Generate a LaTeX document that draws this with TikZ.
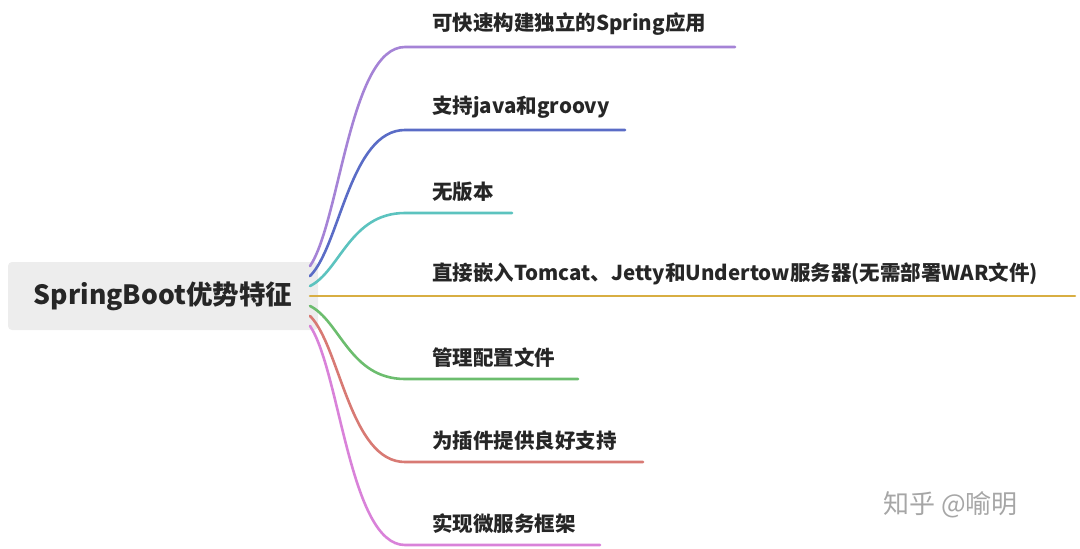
\documentclass[tikz,border=0pt]{standalone}
\usepackage{fontspec}
\setmainfont{Noto Sans CJK SC}
\begin{document}
\begin{tikzpicture}[x=1pt,y=-1pt,
  lbl/.style={anchor=south west,inner sep=0pt,font=\fontsize{20.5}{24}\selectfont\bfseries,text=black!85},
  br/.style={line width=2.6pt,line cap=round}]
\useasboundingbox (0,0) rectangle (1080,549);
\definecolor{c1}{HTML}{A583D6}
\definecolor{c2}{HTML}{5A6CC6}
\definecolor{c3}{HTML}{5CC3BF}
\definecolor{c4}{HTML}{D8AE42}
\definecolor{c5}{HTML}{6CBD6E}
\definecolor{c6}{HTML}{D87A74}
\definecolor{c7}{HTML}{D982D9}
\node[fill=black!7,rounded corners=4pt,minimum width=310pt,minimum height=68pt,font=\fontsize{26.5}{30}\selectfont\bfseries,text=black!85] (root) at (163,296) {SpringBoot优势特征};
\foreach \y/\e/\c/\t/\n in {47/735/c1/可快速构建独立的Spring应用/a,130/625/c2/支持java和groovy/b,213/512/c3/无版本/c,296/1075/c4/直接嵌入Tomcat、Jetty和Undertow服务器(无需部署WAR文件)/d,379/578/c5/管理配置文件/e,462/643/c6/为插件提供良好支持/f,545/600/c7/实现微服务框架/g}{
  \coordinate (s\n) at (310,{296+(\y-296)*0.12});
  \coordinate (m\n) at (405,\y);
  \coordinate (e\n) at (\e,\y);
  \draw[br,\c] (s\n) .. controls (340,{296+(\y-296)*0.3}) and (350,\y) .. (m\n) -- (e\n);
  \node[lbl] (t\n) at (432,\y-11) {\t};
}
\node[anchor=west,text=black!35,font=\fontsize{26}{28}\selectfont] (wm) at (880,505) {知乎 @喻明};
\end{tikzpicture}
\end{document}
